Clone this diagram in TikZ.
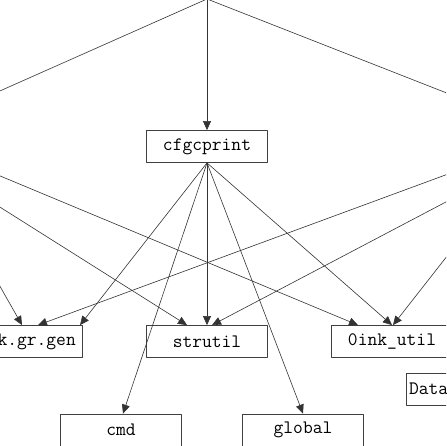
\documentclass[tikz,border=0pt]{standalone}
\usetikzlibrary{arrows.meta}
\begin{document}
\begin{tikzpicture}[x=1pt, y=-1pt, font=\ttfamily\fontsize{19}{21}\selectfont, line join=round,
	>={Triangle[length=9pt,width=8pt]},
	box/.style={draw=black!75, line width=.8pt, minimum width=121pt, minimum height=32pt, inner sep=0pt},
	edge/.style={->, draw=black!80, line width=.6pt}]
	\useasboundingbox (0,0) rectangle (446,446);
	\clip (0,0) rectangle (446,446);
	% ends lying outside the frame
	\coordinate (top) at (207,-1);
	\coordinate (wL) at (-88,130);
	\coordinate (eL) at (541,130);
	\coordinate (w1) at (-31,163);
	\coordinate (w2) at (-70,163);
	\coordinate (e1) at (478,163);
	\coordinate (e2) at (520,163);
	\path 
	(207,146.5) node[box] (cfg) {cfgcprint}
	(22,341.5) node[box] (kgr) {0ink.gr.gen}
	(207,341.5) node[box] (strutil) {strutil}
	(392,341.5) node[box] (oink) {0ink\_util}
	(467,389) node[box, text width=116pt, align=left] (data) {Data}
	(121,430) node[box] (cmd) {cmd}
	(303,430) node[box] (global) {global};
	\draw[edge] (top)--(cfg.north);
	\draw[edge] (top)--(wL);
	\draw[edge] (top)--(eL);
	\draw[edge] (cfg.south)--([xshift=58pt]kgr.north);
	\draw[edge] (cfg.south)--([xshift=2pt]cmd.north);
	\draw[edge] (cfg.south)--(strutil.north);
	\draw[edge] (cfg.south)--(global.north);
	\draw[edge] (cfg.south)--(oink.north);
	\draw[edge] (w1)--([xshift=-34pt]oink.north);
	\draw[edge] (w2)--([xshift=-20pt]strutil.north);
	\draw[edge] (w2)--(kgr.north);
	\draw[edge] (e1)--([xshift=16pt]kgr.north);
	\draw[edge] (e2)--([xshift=5pt]strutil.north);
	\draw[edge] (e2)--([xshift=1pt]oink.north);
\end{tikzpicture}
\end{document}
